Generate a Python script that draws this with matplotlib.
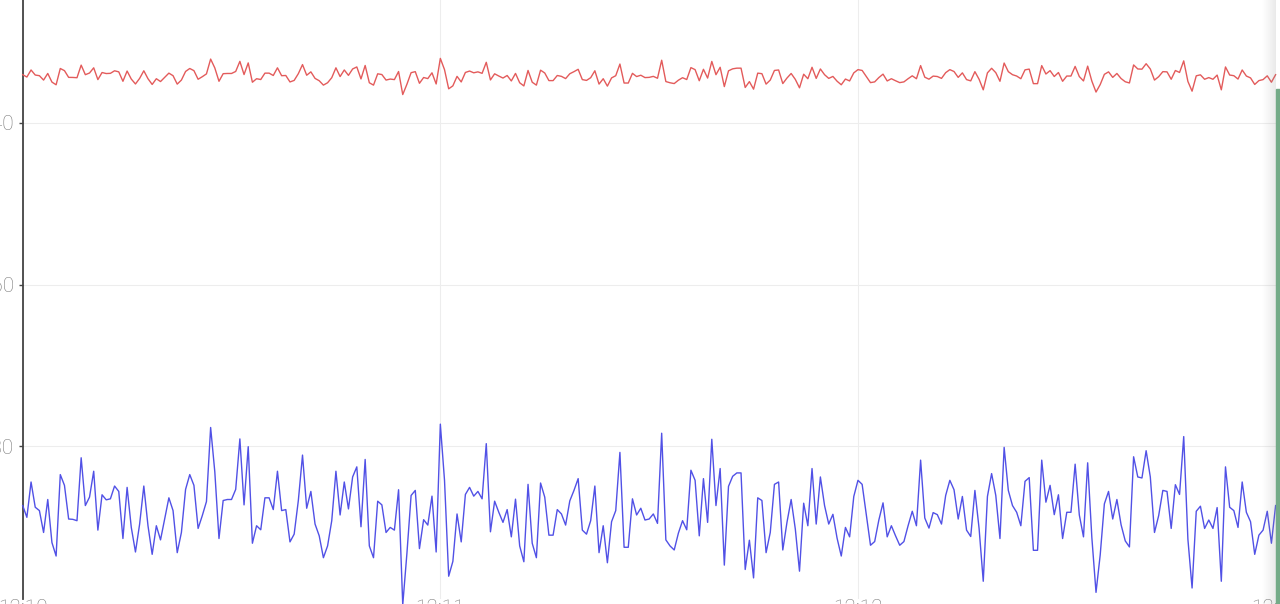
import numpy as np
import matplotlib
matplotlib.use('Agg')
import matplotlib.pyplot as plt
from matplotlib.patches import Rectangle

# sample readings (one per step)
blue = [
    303, 268, 373, 298, 288, 223, 321, 193, 153, 395,
    363, 263, 262, 258, 445, 303, 328, 405, 230, 335,
    320, 323, 361, 345, 205, 357, 238, 165, 248, 361,
    243, 158, 243, 201, 263, 326, 288, 163, 223, 351,
    395, 363, 235, 273, 315, 535, 403, 205, 318, 321,
    321, 351, 501, 305, 478, 191, 243, 231, 326, 326,
    291, 405, 288, 291, 195, 218, 318, 453, 295, 345,
    248, 213, 148, 183, 258, 405, 275, 373, 293, 388,
    418, 240, 440, 183, 148, 316, 305, 223, 238, 230,
    350, 8, 161, 333, 348, 175, 261, 245, 331, 165,
    545, 378, 93, 137, 278, 195, 336, 357, 331, 345,
    323, 487, 225, 316, 283, 253, 291, 210, 322, 183,
    136, 366, 191, 148, 370, 328, 215, 215, 291, 278,
    245, 317, 348, 383, 230, 218, 258, 361, 163, 243,
    133, 255, 288, 461, 179, 179, 323, 275, 295, 260,
    263, 278, 250, 518, 201, 183, 171, 221, 258, 231,
    408, 378, 213, 383, 253, 500, 303, 413, 126, 360,
    390, 400, 400, 113, 200, 88, 326, 318, 163, 223,
    366, 373, 171, 253, 321, 233, 108, 310, 243, 413,
    248, 388, 303, 248, 277, 206, 153, 238, 210, 330,
    378, 366, 276, 185, 196, 260, 311, 210, 243, 213,
    185, 196, 243, 286, 243, 438, 266, 236, 282, 276,
    248, 333, 378, 350, 263, 330, 230, 211, 348, 235,
    78, 330, 398, 333, 205, 476, 348, 303, 283, 243,
    375, 386, 170, 170, 438, 313, 363, 276, 335, 205,
    283, 283, 426, 275, 210, 430, 208, 45, 156, 308,
    345, 263, 321, 246, 198, 180, 448, 388, 385, 466,
    388, 223, 273, 348, 345, 235, 365, 336, 508, 203,
    58, 286, 301, 235, 260, 235, 297, 78, 418, 298,
    288, 238, 373, 283, 255, 158, 215, 230, 286, 191,
    303,
]

red = [
    1583.6, 1576.6, 1597.6, 1582.6, 1580.6, 1567.6, 1587.2, 1561.6, 1553.6, 1602.0,
    1595.6, 1575.6, 1575.4, 1574.6, 1612.0, 1583.6, 1588.6, 1604.0, 1569.0, 1590.0,
    1587.0, 1587.6, 1595.2, 1592.0, 1564.0, 1594.4, 1570.6, 1556.0, 1572.6, 1595.2,
    1571.6, 1554.6, 1571.6, 1563.2, 1575.6, 1588.2, 1580.6, 1555.6, 1567.6, 1593.2,
    1602.0, 1595.6, 1570.0, 1577.6, 1586.0, 1630.0, 1603.6, 1564.0, 1586.6, 1587.2,
    1587.2, 1593.2, 1623.2, 1584.0, 1618.6, 1561.2, 1571.6, 1569.2, 1588.2, 1588.2,
    1581.2, 1604.0, 1580.6, 1581.2, 1562.0, 1566.6, 1586.6, 1613.6, 1582.0, 1592.0,
    1572.6, 1565.6, 1552.6, 1559.6, 1574.6, 1604.0, 1578.0, 1597.6, 1581.6, 1600.6,
    1606.6, 1571.0, 1611.0, 1559.6, 1552.6, 1586.2, 1584.0, 1567.6, 1570.6, 1569.0,
    1593.0, 1524.6, 1555.2, 1589.6, 1592.6, 1558.0, 1575.2, 1572.0, 1589.2, 1556.0,
    1632.0, 1598.6, 1541.6, 1550.4, 1578.6, 1562.0, 1590.2, 1594.4, 1589.2, 1592.0,
    1587.6, 1620.4, 1568.0, 1586.2, 1579.6, 1573.6, 1581.2, 1565.0, 1587.4, 1559.6,
    1550.2, 1596.2, 1561.2, 1552.6, 1597.0, 1588.6, 1566.0, 1566.0, 1581.2, 1578.6,
    1572.0, 1586.4, 1592.6, 1599.6, 1569.0, 1566.6, 1574.6, 1595.2, 1555.6, 1571.6,
    1549.6, 1574.0, 1580.6, 1615.2, 1558.8, 1558.8, 1587.6, 1578.0, 1582.0, 1575.0,
    1575.6, 1578.6, 1573.0, 1626.6, 1563.2, 1559.6, 1557.2, 1567.2, 1574.6, 1569.2,
    1604.6, 1598.6, 1565.6, 1599.6, 1573.6, 1623.0, 1583.6, 1605.6, 1548.2, 1595.0,
    1601.0, 1603.0, 1603.0, 1545.6, 1563.0, 1540.6, 1588.2, 1586.6, 1555.6, 1567.6,
    1596.2, 1597.6, 1557.2, 1573.6, 1587.2, 1569.6, 1544.6, 1585.0, 1571.6, 1605.6,
    1572.6, 1600.6, 1583.6, 1572.6, 1578.4, 1564.2, 1553.6, 1570.6, 1565.0, 1589.0,
    1598.6, 1596.2, 1578.2, 1560.0, 1562.2, 1575.0, 1585.2, 1565.0, 1571.6, 1565.6,
    1560.0, 1562.2, 1571.6, 1580.2, 1571.6, 1610.6, 1576.2, 1570.2, 1579.4, 1578.2,
    1572.6, 1589.6, 1598.6, 1593.0, 1575.6, 1589.0, 1569.0, 1565.2, 1592.6, 1570.0,
    1538.6, 1589.0, 1602.6, 1589.6, 1564.0, 1618.2, 1592.6, 1583.6, 1579.6, 1571.6,
    1598.0, 1600.2, 1557.0, 1557.0, 1610.6, 1585.6, 1595.6, 1578.2, 1590.0, 1564.0,
    1579.6, 1579.6, 1608.2, 1578.0, 1565.0, 1609.0, 1564.6, 1532.0, 1554.2, 1584.6,
    1592.0, 1575.6, 1587.2, 1572.2, 1562.6, 1559.0, 1612.6, 1600.6, 1600.0, 1616.2,
    1600.6, 1567.6, 1577.6, 1592.6, 1592.0, 1570.0, 1596.0, 1590.2, 1624.6, 1563.6,
    1534.6, 1580.2, 1583.2, 1570.0, 1575.0, 1570.0, 1582.4, 1538.6, 1606.6, 1582.6,
    1580.6, 1570.6, 1597.6, 1579.6, 1574.0, 1554.6, 1566.0, 1569.0, 1580.2, 1561.2,
    1583.6,
]

y_ticks = [480, 960, 1440]
x_ticks = [0, 100, 200, 300]
x_tick_labels = ["12:10", "12:11", "12:12", "12:13"]

W, H = 1280, 604
fig = plt.figure(figsize=(W / 100, H / 100), dpi=100)
fig.patch.set_facecolor('white')

left_px, right_px, bottom_px = 22.7, 1275.6, 5
ax = fig.add_axes([left_px / W, bottom_px / H, (right_px - left_px) / W, (H - bottom_px) / H])

# y scale: 480 units per 161.5 px, first tick sitting at y=446 from the top
px_per_unit = 161.5 / 480
tick0_px = H - 446
ylo = y_ticks[0] - (tick0_px - bottom_px) / px_per_unit
yhi = ylo + (H - bottom_px) / px_per_unit

x = np.arange(len(blue))
ax.plot(x, red, color='#e35b5b', lw=1.0, clip_on=False, zorder=3)
ax.plot(x, blue, color='#5151e6', lw=1.0, clip_on=False, zorder=3)

ax.set_xlim(0, x_ticks[-1])
ax.set_ylim(ylo, yhi)
ax.set_yticks(y_ticks)
ax.set_xticks(x_ticks)
ax.set_xticklabels(x_tick_labels)

ax.grid(True, color='#ededed', lw=0.8, zorder=0)
for side in ['top', 'right', 'bottom']:
    ax.spines[side].set_visible(False)
ax.spines['left'].set_color('#444444')
ax.spines['left'].set_linewidth(1.3)

ax.tick_params(axis='y', length=3, width=1, color='#444444', pad=3.4,
               labelsize=15, labelcolor='#7a7a7a')
ax.tick_params(axis='x', length=0, pad=0, labelsize=15, labelcolor='#7a7a7a')
for lab in ax.get_xticklabels() + ax.get_yticklabels():
    lab.set_family(['Roboto', 'DejaVu Sans'])
    lab.set_fontweight('light')

# side panel shadow + green strip at the right edge
shade = fig.add_axes([1262 / W, 0, 13.5 / W, 1], zorder=5)
grad = np.zeros((1, 32, 4))
grad[..., :3] = 0.55
grad[0, :, 3] = np.linspace(0.0, 0.18, 32)
shade.imshow(grad, aspect='auto', interpolation='bilinear')
shade.axis('off')

fig.add_artist(Rectangle((1275.5 / W, 0), 5 / W, (H - 89) / H,
                         transform=fig.transFigure, color='#74ab88', zorder=10))

fig.savefig('out.png', dpi=100)
